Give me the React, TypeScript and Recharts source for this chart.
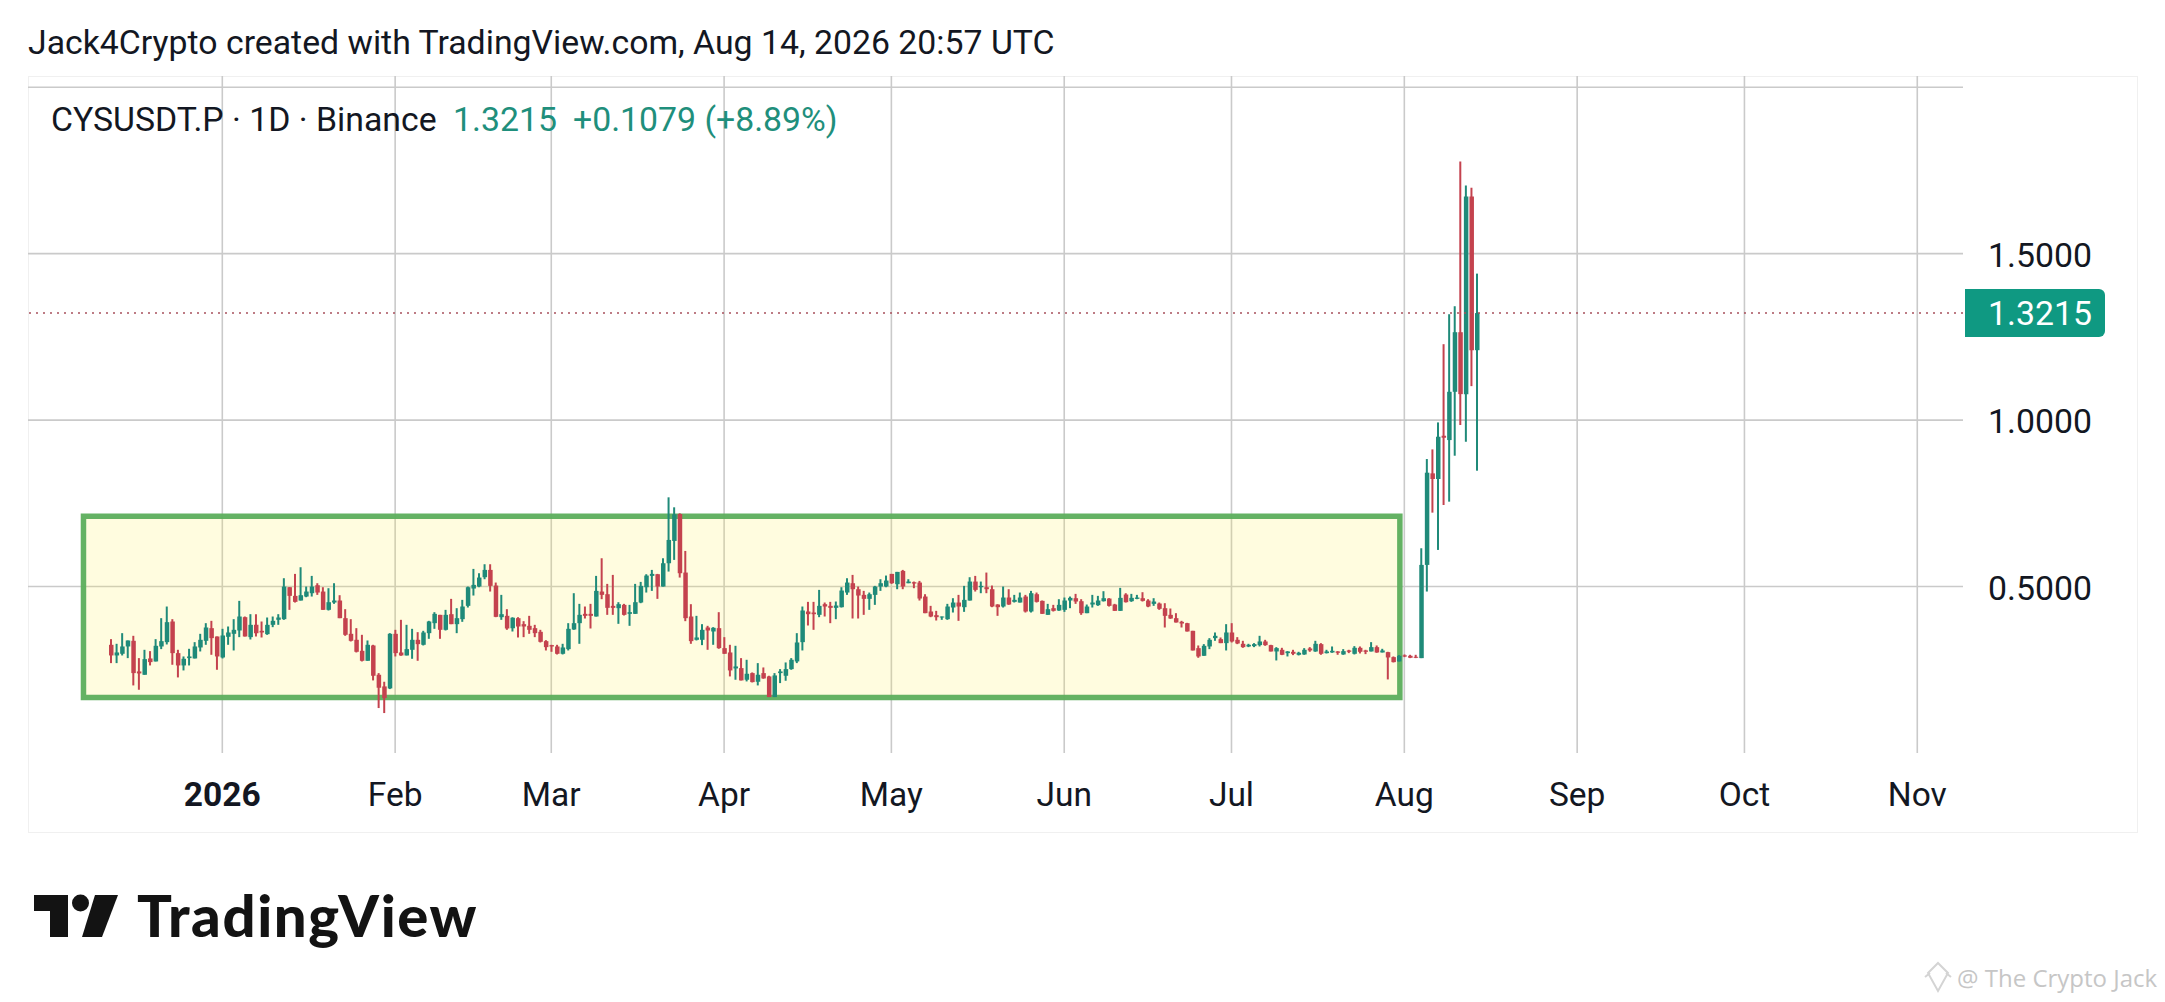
import {
  Bar,
  CartesianGrid,
  Cell,
  ComposedChart,
  ReferenceArea,
  ReferenceLine,
  XAxis,
  YAxis,
} from "recharts";

const UP = "#1f8a79";
const DOWN = "#c4424e";
const GRID = "#cacaca";
const INK = "#131722";

// days counted from Jan 1 2026, first candle is Dec 12
const firstDay = -20;

const opens = [
  0.325, 0.293, 0.298, 0.32, 0.337, 0.245, 0.235, 0.284, 0.275, 0.32,
  0.333, 0.395, 0.3, 0.263, 0.285, 0.284, 0.317, 0.337, 0.375, 0.35,
  0.287, 0.349, 0.358, 0.368, 0.408, 0.348, 0.385, 0.367, 0.357, 0.385,
  0.4, 0.402, 0.498, 0.472, 0.458, 0.47, 0.48, 0.504, 0.485, 0.43,
  0.452, 0.458, 0.405, 0.358, 0.34, 0.307, 0.277, 0.323, 0.235, 0.2,
  0.194, 0.358, 0.302, 0.293, 0.31, 0.34, 0.325, 0.36, 0.39, 0.415,
  0.37, 0.417, 0.387, 0.402, 0.442, 0.494, 0.5, 0.528, 0.55, 0.503,
  0.408, 0.412, 0.375, 0.405, 0.387, 0.382, 0.375, 0.364, 0.336, 0.324,
  0.32, 0.298, 0.312, 0.371, 0.39, 0.418, 0.418, 0.41, 0.485, 0.477,
  0.442, 0.435, 0.445, 0.418, 0.418, 0.452, 0.498, 0.532, 0.537, 0.5,
  0.57, 0.637, 0.718, 0.542, 0.41, 0.34, 0.34, 0.377, 0.365, 0.375,
  0.315, 0.302, 0.254, 0.255, 0.22, 0.24, 0.214, 0.24, 0.23, 0.168,
  0.24, 0.232, 0.252, 0.275, 0.333, 0.425, 0.422, 0.415, 0.447, 0.442,
  0.436, 0.438, 0.482, 0.51, 0.492, 0.475, 0.463, 0.475, 0.5, 0.5,
  0.538, 0.507, 0.547, 0.51, 0.513, 0.512, 0.47, 0.425, 0.414, 0.407,
  0.402, 0.437, 0.452, 0.438, 0.458, 0.515, 0.498, 0.498, 0.492, 0.446,
  0.44, 0.467, 0.454, 0.452, 0.47, 0.425, 0.477, 0.457, 0.415, 0.435,
  0.428, 0.43, 0.458, 0.465, 0.456, 0.42, 0.446, 0.444, 0.456, 0.464,
  0.446, 0.427, 0.476, 0.456, 0.463, 0.465, 0.458, 0.448, 0.449, 0.435,
  0.415, 0.405, 0.394, 0.39, 0.367, 0.315, 0.292, 0.32, 0.345, 0.342,
  0.33, 0.362, 0.34, 0.328, 0.32, 0.321, 0.324, 0.335, 0.324, 0.305,
  0.31, 0.3, 0.304, 0.295, 0.296, 0.314, 0.305, 0.327, 0.3, 0.302,
  0.305, 0.296, 0.308, 0.298, 0.316, 0.308, 0.305, 0.318, 0.302, 0.303,
  0.288, 0.275, 0.293, 0.292, 0.289, 0.285, 0.565, 0.84, 0.823, 0.953,
  0.94, 1.085, 1.264, 1.078, 1.672, 1.21,
];

const closes = [
  0.293, 0.302, 0.32, 0.338, 0.24, 0.239, 0.282, 0.273, 0.322, 0.336,
  0.393, 0.3, 0.263, 0.283, 0.29, 0.32, 0.34, 0.377, 0.345, 0.29,
  0.353, 0.362, 0.37, 0.41, 0.35, 0.385, 0.36, 0.362, 0.385, 0.397,
  0.407, 0.5, 0.472, 0.454, 0.474, 0.485, 0.5, 0.482, 0.43, 0.453,
  0.458, 0.405, 0.355, 0.337, 0.304, 0.277, 0.325, 0.232, 0.196, 0.165,
  0.358, 0.3, 0.293, 0.312, 0.34, 0.327, 0.362, 0.395, 0.418, 0.37,
  0.415, 0.387, 0.405, 0.44, 0.498, 0.505, 0.527, 0.55, 0.502, 0.409,
  0.417, 0.374, 0.406, 0.38, 0.38, 0.37, 0.36, 0.334, 0.318, 0.32,
  0.298, 0.317, 0.373, 0.39, 0.415, 0.412, 0.412, 0.487, 0.475, 0.436,
  0.436, 0.447, 0.415, 0.423, 0.453, 0.502, 0.533, 0.538, 0.5, 0.57,
  0.64, 0.717, 0.54, 0.405, 0.336, 0.347, 0.37, 0.368, 0.376, 0.315,
  0.298, 0.248, 0.26, 0.218, 0.238, 0.213, 0.235, 0.224, 0.168, 0.233,
  0.245, 0.252, 0.28, 0.332, 0.428, 0.417, 0.417, 0.442, 0.44, 0.436,
  0.443, 0.488, 0.512, 0.492, 0.473, 0.463, 0.477, 0.5, 0.51, 0.518,
  0.51, 0.544, 0.5, 0.515, 0.509, 0.464, 0.42, 0.41, 0.408, 0.41,
  0.44, 0.452, 0.44, 0.46, 0.515, 0.49, 0.502, 0.492, 0.44, 0.438,
  0.467, 0.446, 0.46, 0.467, 0.425, 0.48, 0.454, 0.418, 0.432, 0.427,
  0.445, 0.458, 0.466, 0.455, 0.42, 0.44, 0.452, 0.458, 0.465, 0.442,
  0.427, 0.466, 0.453, 0.466, 0.467, 0.457, 0.44, 0.455, 0.433, 0.412,
  0.404, 0.392, 0.389, 0.365, 0.308, 0.29, 0.322, 0.34, 0.352, 0.33,
  0.362, 0.335, 0.329, 0.318, 0.325, 0.327, 0.335, 0.324, 0.305, 0.315,
  0.295, 0.305, 0.298, 0.301, 0.31, 0.308, 0.328, 0.298, 0.305, 0.307,
  0.301, 0.306, 0.304, 0.316, 0.304, 0.304, 0.318, 0.302, 0.308, 0.287,
  0.273, 0.292, 0.29, 0.286, 0.286, 0.565, 0.842, 0.823, 0.95, 0.947,
  1.085, 1.264, 1.078, 1.672, 1.21, 1.3215,
];

const highs = [
  0.342, 0.328, 0.36, 0.338, 0.352, 0.285, 0.31, 0.306, 0.342, 0.405,
  0.44, 0.402, 0.31, 0.29, 0.313, 0.333, 0.358, 0.39, 0.397, 0.35,
  0.373, 0.38, 0.402, 0.457, 0.41, 0.417, 0.417, 0.395, 0.407, 0.41,
  0.417, 0.525, 0.498, 0.538, 0.558, 0.5, 0.532, 0.51, 0.498, 0.495,
  0.51, 0.474, 0.432, 0.402, 0.375, 0.355, 0.338, 0.325, 0.24, 0.214,
  0.36, 0.37, 0.4, 0.385, 0.373, 0.363, 0.367, 0.397, 0.423, 0.415,
  0.43, 0.463, 0.435, 0.46, 0.5, 0.553, 0.54, 0.567, 0.567, 0.512,
  0.475, 0.432, 0.408, 0.408, 0.396, 0.412, 0.385, 0.37, 0.339, 0.325,
  0.325, 0.328, 0.39, 0.48, 0.448, 0.44, 0.448, 0.532, 0.585, 0.508,
  0.535, 0.453, 0.448, 0.445, 0.508, 0.514, 0.537, 0.55, 0.538, 0.585,
  0.768, 0.738, 0.72, 0.607, 0.447, 0.412, 0.387, 0.382, 0.378, 0.423,
  0.348, 0.325, 0.322, 0.285, 0.28, 0.242, 0.27, 0.257, 0.232, 0.24,
  0.252, 0.272, 0.285, 0.36, 0.44, 0.454, 0.454, 0.49, 0.452, 0.454,
  0.455, 0.498, 0.525, 0.535, 0.5, 0.487, 0.482, 0.502, 0.522, 0.533,
  0.538, 0.544, 0.55, 0.522, 0.515, 0.517, 0.477, 0.442, 0.427, 0.41,
  0.448, 0.465, 0.475, 0.502, 0.528, 0.532, 0.515, 0.542, 0.503, 0.447,
  0.5, 0.492, 0.475, 0.482, 0.475, 0.487, 0.482, 0.458, 0.448, 0.445,
  0.462, 0.467, 0.47, 0.478, 0.462, 0.446, 0.475, 0.472, 0.486, 0.465,
  0.448, 0.496, 0.48, 0.478, 0.475, 0.483, 0.462, 0.465, 0.452, 0.45,
  0.434, 0.42, 0.397, 0.391, 0.367, 0.323, 0.327, 0.345, 0.362, 0.347,
  0.387, 0.39, 0.348, 0.337, 0.328, 0.33, 0.352, 0.34, 0.325, 0.318,
  0.316, 0.306, 0.31, 0.304, 0.315, 0.318, 0.337, 0.33, 0.31, 0.32,
  0.306, 0.312, 0.31, 0.321, 0.32, 0.31, 0.333, 0.323, 0.313, 0.304,
  0.29, 0.294, 0.296, 0.295, 0.295, 0.615, 0.883, 0.912, 0.993, 1.228,
  1.318, 1.342, 1.777, 1.705, 1.698, 1.44,
];

const lows = [
  0.27, 0.27, 0.293, 0.285, 0.203, 0.19, 0.235, 0.263, 0.275, 0.312,
  0.326, 0.265, 0.227, 0.248, 0.263, 0.284, 0.305, 0.325, 0.295, 0.25,
  0.284, 0.325, 0.308, 0.348, 0.35, 0.341, 0.35, 0.347, 0.355, 0.378,
  0.385, 0.4, 0.43, 0.452, 0.458, 0.468, 0.47, 0.475, 0.43, 0.428,
  0.448, 0.405, 0.352, 0.335, 0.302, 0.275, 0.277, 0.218, 0.135, 0.12,
  0.192, 0.29, 0.292, 0.293, 0.283, 0.277, 0.323, 0.343, 0.373, 0.343,
  0.368, 0.387, 0.36, 0.394, 0.437, 0.473, 0.498, 0.522, 0.485, 0.408,
  0.4, 0.37, 0.365, 0.347, 0.348, 0.358, 0.348, 0.332, 0.308, 0.304,
  0.296, 0.296, 0.308, 0.37, 0.328, 0.404, 0.374, 0.41, 0.462, 0.415,
  0.415, 0.388, 0.413, 0.382, 0.418, 0.45, 0.482, 0.487, 0.463, 0.5,
  0.545, 0.58, 0.527, 0.396, 0.328, 0.338, 0.324, 0.31, 0.325, 0.313,
  0.298, 0.23, 0.22, 0.218, 0.215, 0.212, 0.203, 0.223, 0.168, 0.168,
  0.21, 0.217, 0.25, 0.27, 0.308, 0.383, 0.37, 0.408, 0.41, 0.39,
  0.402, 0.437, 0.475, 0.404, 0.404, 0.415, 0.43, 0.445, 0.487, 0.498,
  0.508, 0.492, 0.492, 0.51, 0.495, 0.458, 0.42, 0.408, 0.398, 0.4,
  0.4, 0.422, 0.397, 0.424, 0.458, 0.485, 0.48, 0.48, 0.438, 0.412,
  0.437, 0.445, 0.452, 0.452, 0.422, 0.422, 0.452, 0.418, 0.415, 0.425,
  0.427, 0.424, 0.435, 0.448, 0.415, 0.42, 0.437, 0.442, 0.455, 0.44,
  0.427, 0.427, 0.452, 0.454, 0.462, 0.455, 0.438, 0.442, 0.43, 0.377,
  0.403, 0.392, 0.377, 0.365, 0.308, 0.286, 0.292, 0.312, 0.337, 0.33,
  0.308, 0.332, 0.327, 0.316, 0.318, 0.318, 0.32, 0.322, 0.305, 0.278,
  0.294, 0.29, 0.294, 0.293, 0.295, 0.304, 0.304, 0.295, 0.299, 0.301,
  0.295, 0.295, 0.3, 0.296, 0.299, 0.297, 0.305, 0.301, 0.302, 0.221,
  0.272, 0.275, 0.288, 0.285, 0.285, 0.285, 0.485, 0.722, 0.61, 0.745,
  0.755, 0.893, 0.985, 0.935, 1.102, 0.848,
];

const monthTicks = [0, 31, 59, 90, 120, 151, 181, 212, 243, 273, 304];
const monthLabels = ["2026", "Feb", "Mar", "Apr", "May", "Jun", "Jul", "Aug", "Sep", "Oct", "Nov"];
const priceTicks = [0.5, 1, 1.5, 2];
const lastPrice = 1.3215;

const candles = opens.map((open, i) => ({
  day: firstDay + i,
  body: [Math.min(open, closes[i]), Math.max(open, closes[i])],
  wick: [lows[i], highs[i]],
  up: closes[i] >= open,
}));

const dayDomain = [-34.85, 312.2];
const priceDomain = [0, 2.0336];

function MonthTick({ x, y, index }: any) {
  return (
    <text
      x={x}
      y={y + 45}
      textAnchor="middle"
      fontFamily="Roboto"
      fontSize={33.5}
      fontWeight={index === 0 ? 700 : 400}
      fill={INK}
    >
      {monthLabels[index]}
    </text>
  );
}

function PriceTick({ x, y, payload }: any) {
  if (payload.value >= 2) return null;
  return (
    <text x={x + 17} y={y + 13} fontFamily="Roboto" fontSize={33.8} fill={INK}>
      {payload.value.toFixed(4)}
    </text>
  );
}

function PriceTag({ viewBox }: any) {
  const right = viewBox.x + viewBox.width;
  const mid = viewBox.y;
  return (
    <g>
      <path
        d={`M${right + 2} ${mid - 24}h134a6 6 0 0 1 6 6v36a6 6 0 0 1 -6 6h-134z`}
        fill="#0f9982"
      />
      <text x={right + 25} y={mid + 12} fontFamily="Roboto" fontSize={33.8} fill="#fff">
        {lastPrice.toFixed(4)}
      </text>
    </g>
  );
}

const textStyle: React.CSSProperties = {
  position: "absolute",
  fontFamily: "Roboto",
  whiteSpace: "pre",
  lineHeight: 1,
};

export default function App() {
  return (
    <div
      style={{
        position: "absolute",
        left: 0,
        top: 0,
        width: 2165,
        height: 1002,
        background: "#fff",
        overflow: "hidden",
      }}
    >
      <div style={{ ...textStyle, left: 28, top: 26, fontSize: 33.8, color: INK }}>
        Jack4Crypto created with TradingView.com, Aug 14, 2026 20:57 UTC
      </div>
      <div
        style={{
          position: "absolute",
          left: 28,
          top: 76,
          width: 2108,
          height: 755,
          border: "1px solid #f0f0f0",
        }}
      />

      <div style={{ position: "absolute", left: 0, top: 0 }}>
        <ComposedChart
          width={2165}
          height={1002}
          data={candles}
          margin={{ top: 76, left: 28, right: 0, bottom: 0 }}
        >
          <CartesianGrid stroke={GRID} strokeWidth={1.6} xAxisId="wick" syncWithTicks />
          <XAxis
            xAxisId="wick"
            dataKey="day"
            type="number"
            domain={dayDomain}
            ticks={monthTicks}
            interval={0}
            height={249}
            tick={<MonthTick />}
            tickLine={false}
            axisLine={false}
            allowDataOverflow
          />
          <XAxis
            xAxisId="body"
            dataKey="day"
            type="number"
            domain={dayDomain}
            height={0}
            hide
            allowDataOverflow
          />
          <YAxis
            orientation="right"
            type="number"
            domain={priceDomain}
            ticks={priceTicks}
            interval={0}
            width={202}
            tick={<PriceTick />}
            tickLine={false}
            axisLine={false}
            allowDataOverflow
          />
          <ReferenceLine
            xAxisId="wick"
            y={lastPrice}
            stroke="#a8505c"
            strokeWidth={1.4}
            strokeDasharray="2 5"
            label={<PriceTag />}
          />
          <Bar xAxisId="wick" dataKey="wick" barSize={2} isAnimationActive={false}>
            {candles.map((c) => (
              <Cell key={c.day} fill={c.up ? UP : DOWN} />
            ))}
          </Bar>
          <Bar xAxisId="body" dataKey="body" barSize={4.5} isAnimationActive={false}>
            {candles.map((c) => (
              <Cell key={c.day} fill={c.up ? UP : DOWN} />
            ))}
          </Bar>
          <ReferenceArea
            xAxisId="wick"
            x1={-24.9}
            x2={211.2}
            y1={0.167}
            y2={0.711}
            fill="#ffeb3b"
            fillOpacity={0.16}
            stroke="#5cae5c"
            strokeWidth={5.5}
            strokeOpacity={0.95}
          />
        </ComposedChart>
      </div>

      <div style={{ ...textStyle, left: 51, top: 103, fontSize: 33.8, color: INK }}>
        CYSUSDT.P · 1D · Binance
      </div>
      <div style={{ ...textStyle, left: 453, top: 103, fontSize: 33.8, color: "#1f8f7c" }}>1.3215</div>
      <div style={{ ...textStyle, left: 573, top: 103, fontSize: 33.8, color: "#1f8f7c" }}>
        +0.1079 (+8.89%)
      </div>

      <svg style={{ position: "absolute", left: 0, top: 880 }} width={130} height={70}>
        <path d="M34 15H68V57H50V31H34Z" fill="#131313" />
        <circle cx={80.5} cy={23} r={8.5} fill="#131313" />
        <path d="M95 15H118L102 57H82Z" fill="#131313" />
      </svg>
      <div
        style={{
          ...textStyle,
          left: 137,
          top: 886,
          fontSize: 58,
          fontFamily: "Lato",
          fontWeight: 900,
          letterSpacing: 1.6,
          color: "#131313",
        }}
      >
        TradingView
      </div>

      <svg style={{ position: "absolute", left: 1922, top: 960 }} width={32} height={34}>
        <path
          d="M16 3L26 13L16 31L6 13Z M3 17L8 13 M29 17L24 13"
          fill="none"
          stroke="#d4d4d4"
          strokeWidth={2}
        />
      </svg>
      <div style={{ ...textStyle, left: 1957, top: 966, fontSize: 24, fontFamily: "Open Sans", color: "#c6c6c6" }}>
        @ The Crypto Jack
      </div>
    </div>
  );
}
